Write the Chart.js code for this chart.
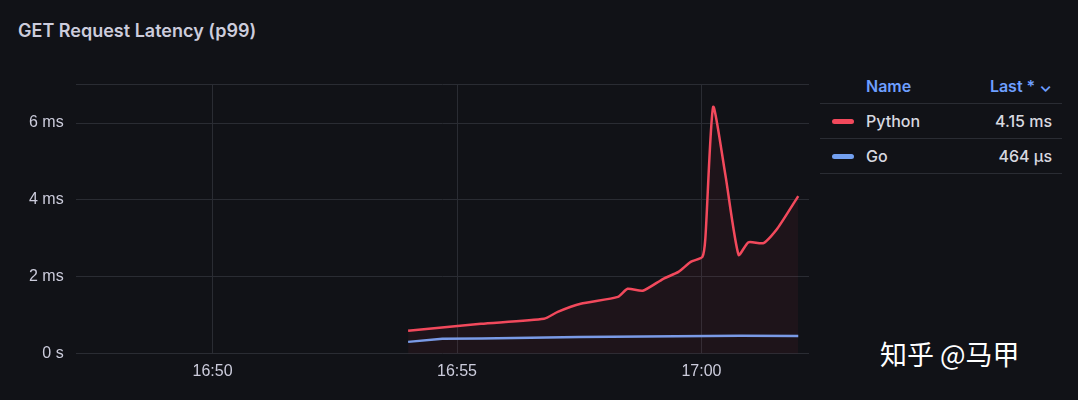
<!DOCTYPE html>
<html><head><meta charset="utf-8">
<script src="https://cdn.jsdelivr.net/npm/chart.js@4"></script>
<style>
body{margin:0;background:#111217;font-family:Inter,"Noto Sans",sans-serif;width:1078px;height:400px;overflow:hidden;position:relative}
#title{position:absolute;left:18px;top:20px;color:#ccccdc;font-size:18px;font-weight:600}
#wrap{position:absolute;left:0;top:63px;width:815px;height:326px}
#legend{position:absolute;left:820px;top:69px;width:242px;color:#d8d9e0;font-size:16px;font-weight:500}
.row{display:flex;align-items:center;height:34px;border-bottom:1px solid #2a2c33}
.hd{color:#6e9fff;font-weight:600}
.sw{width:22px;height:5px;border-radius:3px;margin:0 12px 0 12px}
.nm{flex:1}.vl{padding-right:10px}
#wm{position:absolute;left:880px;top:334px;color:#fff;font-size:27px;font-family:"Noto Sans CJK SC",sans-serif}
</style></head><body>
<div id="title">GET Request Latency (p99)</div>
<div id="wrap"><canvas id="c"></canvas></div>
<div id="legend">
 <div class="row hd"><span style="width:46px"></span><span class="nm">Name</span><span class="vl">Last * ⌄</span></div>
 <div class="row"><span class="sw" style="background:#f2495c"></span><span class="nm">Python</span><span class="vl">4.15 ms</span></div>
 <div class="row"><span class="sw" style="background:#73a0f0"></span><span class="nm">Go</span><span class="vl">464 µs</span></div>
</div>
<div id="wm">知乎 @马甲</div>
<script>
// minutes relative to 17:00
const pyTimes = [-6.0,-4.51,-3.22,-2.94,-2.47,-1.71,-1.51,-1.2,-0.78,-0.47,-0.22,0.02,0.08,0.24,0.49,0.76,0.96,1.27,1.55,1.98];
const pyValues = [0.6,0.78,0.91,1.09,1.3,1.48,1.69,1.64,1.95,2.13,2.39,2.52,3.0,6.42,4.65,2.57,2.9,2.88,3.25,4.1];
const goTimes = [-6.0,-5.3,-4.5,-2.5,0.8,1.98];
const goValues = [0.31,0.39,0.4,0.44,0.47,0.46];
const xTicks = [-10,-5,0];
const xTickLabels = ['16:50','16:55','17:00'];
const yTicks = [0,2,4,6,7];

const pts = (t,v)=>t.map((x,i)=>({x,y:v[i]}));
const ctx = document.getElementById('c');
new Chart(ctx,{
  type:'line',
  data:{datasets:[
    {label:'Python',data:pts(pyTimes,pyValues),borderColor:'#f2495c',borderWidth:2.5,pointRadius:0,tension:0.2,fill:'origin',
     backgroundColor:'rgba(242,73,92,0.06)'},
    {label:'Go',data:pts(goTimes,goValues),borderColor:'#73a0f0',borderWidth:2.5,pointRadius:0,tension:0,fill:false}
  ]},
  options:{responsive:true,maintainAspectRatio:false,animation:false,
    layout:{padding:{left:17,right:6,top:10}},
    plugins:{legend:{display:false},tooltip:{enabled:false}},
    scales:{
      x:{type:'linear',min:-12.8,max:2.2,
        afterBuildTicks:a=>{a.ticks=xTicks.map(v=>({value:v}));},
        ticks:{color:'#ccccdc',font:{size:16,weight:500},padding:8,callback:v=>xTickLabels[xTicks.indexOf(v)]},
        grid:{color:'#2a2c33',drawTicks:false},border:{display:false}},
      y:{min:0,max:7,
        afterBuildTicks:a=>{a.ticks=yTicks.map(v=>({value:v}));},
        ticks:{color:'#ccccdc',font:{size:16,weight:500},padding:12,callback:v=>v===7?'':(v===0?'0 s':v+' ms')},
        grid:{color:'#2a2c33',drawTicks:false},border:{display:false}}
    }}
});
</script></body></html>
